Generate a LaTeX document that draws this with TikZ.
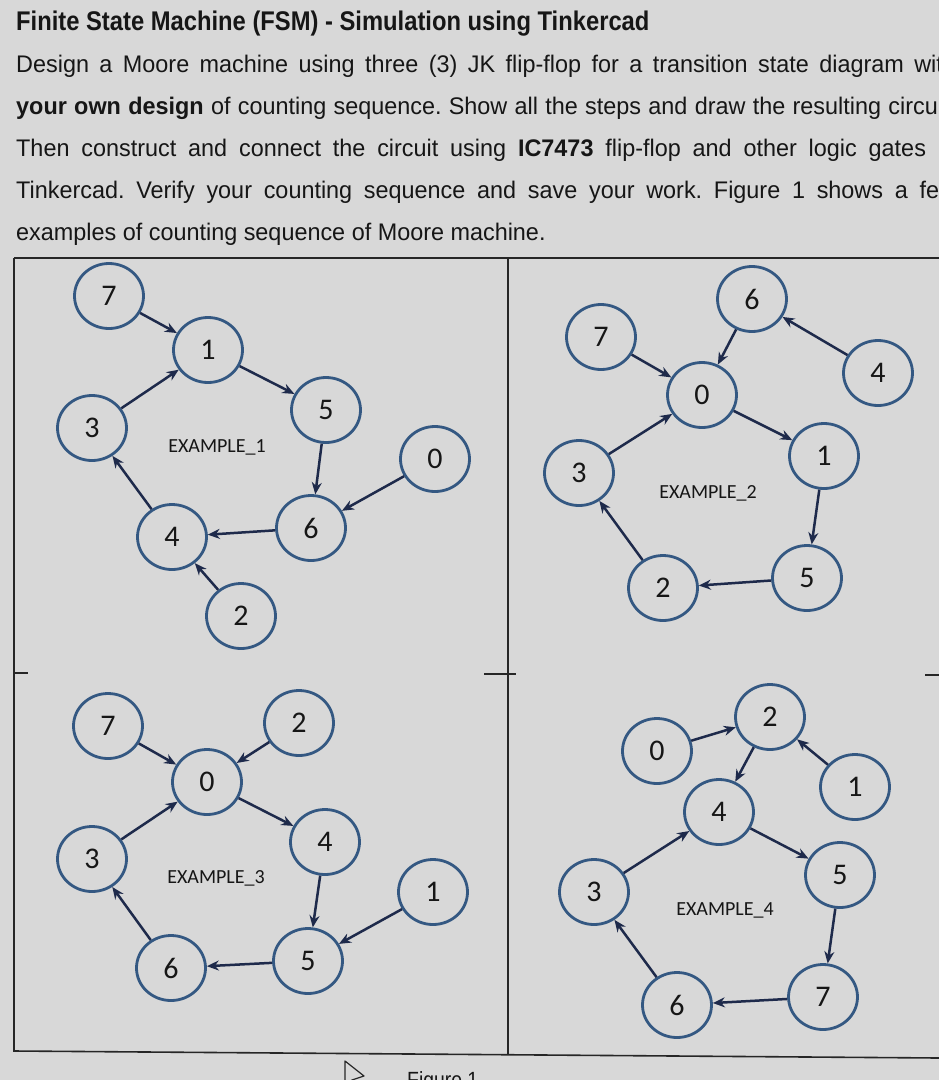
\documentclass[tikz,border=0pt]{standalone}
\usepackage{fontspec}
\setmainfont{Liberation Sans}
\newfontfamily\carl{Carlito}
\usetikzlibrary{shapes.geometric,arrows.meta}
\definecolor{bg}{RGB}{216,216,216}
\definecolor{ring}{RGB}{52,88,130}
\definecolor{arr}{RGB}{30,42,75}
\definecolor{ink}{RGB}{22,22,22}
\frenchspacing
\newcommand{\myjline}[1]{\scalebox{0.975}[1]{\makebox[964pt][s]{#1}}}
\begin{document}
\begin{tikzpicture}[x=1pt,y=-1pt,
  st/.style={ellipse,draw=ring,line width=2.8pt,minimum width=69pt,minimum height=65pt,inner sep=0pt,font=\carl\fontsize{30}{30}\selectfont,text=ink},
  tr/.style={-{Stealth[length=12pt,width=10pt]},draw=arr,line width=2.5pt},
  lbl/.style={font=\carl\fontsize{20}{20}\selectfont,text=ink,inner sep=0pt},
  hdr/.style={anchor=base west,inner sep=0pt,text=ink,font=\fontsize{24}{24}\selectfont},
  frm/.style={draw=black!85,line width=1.6pt}]
\clip (0,0) rectangle (939,1080);
\fill[bg] (0,0) rectangle (939,1080);

% header text
\node[hdr] (h1) at (16,30) {\scalebox{0.88}[1]{\fontsize{27}{27}\selectfont\bfseries Finite State Machine (FSM) - Simulation using Tinkercad}};
\node[hdr] (h2) at (16,72) {\myjline{Design a Moore machine using three (3) JK flip-flop for a transition state diagram with}};
\node[hdr] (h3) at (16,114) {\myjline{\textbf{your own design} of counting sequence. Show all the steps and draw the resulting circuit.}};
\node[hdr] (h4) at (16,156) {\myjline{Then construct and connect the circuit using \textbf{IC7473} flip-flop and other logic gates in}};
\node[hdr] (h5) at (16,198) {\myjline{Tinkercad. Verify your counting sequence and save your work. Figure 1 shows a few}};
\node[hdr] (h6) at (16,240) {\scalebox{0.975}[1]{examples of counting sequence of Moore machine.}};

% frame
\draw[frm] (14,258) -- (939,258);
\draw[frm] (14,258) -- (14,1051) -- (939,1058);
\draw[frm] (508,258) -- (508,1055);
\draw[frm] (14,673) -- (28,673);
\draw[frm] (484,674) -- (516,674);
\draw[frm] (925,675) -- (939,675);

% Example 1
\node[st] (a7) at (109,296) {7};
\node[st] (a1) at (208,350) {1};
\node[st] (a3) at (92,428) {3};
\node[st] (a5) at (326,410) {5};
\node[st] (a0) at (435,459) {0};
\node[st] (a6) at (311,528) {6};
\node[st] (a4) at (172,537) {4};
\node[st] (a2) at (241,616) {2};
\node[lbl] (la) at (217,447) {EXAMPLE\_1};
\draw[tr] (a7) -- (a1);
\draw[tr] (a3) -- (a1);
\draw[tr] (a1) -- (a5);
\draw[tr] (a5) -- (a6);
\draw[tr] (a0) -- (a6);
\draw[tr] (a6) -- (a4);
\draw[tr] (a4) -- (a3);
\draw[tr] (a2) -- (a4);

% Example 2
\node[st] (b6) at (752,299) {6};
\node[st] (b7) at (601,337) {7};
\node[st] (b4) at (878,373) {4};
\node[st] (b0) at (702,395) {0};
\node[st] (b1) at (824,456) {1};
\node[st] (b3) at (579,473) {3};
\node[st] (b5) at (807,578) {5};
\node[st] (b2) at (663,588) {2};
\node[lbl] (lb) at (708,493) {EXAMPLE\_2};
\draw[tr] (b7) -- (b0);
\draw[tr] (b6) -- (b0);
\draw[tr] (b4) -- (b6);
\draw[tr] (b3) -- (b0);
\draw[tr] (b0) -- (b1);
\draw[tr] (b1) -- (b5);
\draw[tr] (b5) -- (b2);
\draw[tr] (b2) -- (b3);

% Example 3
\node[st] (c7) at (108,726) {7};
\node[st] (c2) at (299,723) {2};
\node[st] (c0) at (207,782) {0};
\node[st] (c4) at (325,842) {4};
\node[st] (c3) at (92,859) {3};
\node[st] (c1) at (433,892) {1};
\node[st] (c5) at (308,961) {5};
\node[st] (c6) at (171,968) {6};
\node[lbl] (lc) at (216,878) {EXAMPLE\_3};
\draw[tr] (c7) -- (c0);
\draw[tr] (c2) -- (c0);
\draw[tr] (c0) -- (c4);
\draw[tr] (c3) -- (c0);
\draw[tr] (c4) -- (c5);
\draw[tr] (c1) -- (c5);
\draw[tr] (c5) -- (c6);
\draw[tr] (c6) -- (c3);

% Example 4
\node[st] (d2) at (770,717) {2};
\node[st] (d0) at (657,751) {0};
\node[st] (d1) at (855,787) {1};
\node[st] (d4) at (719,812) {4};
\node[st] (d3) at (594,892) {3};
\node[st] (d5) at (840,875) {5};
\node[st] (d7) at (823,997) {7};
\node[st] (d6) at (677,1005) {6};
\node[lbl] (ld) at (725,910) {EXAMPLE\_4};
\draw[tr] (d0) -- (d2);
\draw[tr] (d1) -- (d2);
\draw[tr] (d2) -- (d4);
\draw[tr] (d3) -- (d4);
\draw[tr] (d4) -- (d5);
\draw[tr] (d5) -- (d7);
\draw[tr] (d7) -- (d6);
\draw[tr] (d6) -- (d3);

% bottom: pointer and caption (cut by the page edge)
\draw[black!85,line width=1.2pt,line join=round] (345,1061) -- (345,1085) -- (352,1080) -- (364,1076) -- cycle;
\node[anchor=north west,inner sep=0pt,text=ink,font=\fontsize{22}{22}\selectfont] (fig) at (407,1071) {\scalebox{0.88}[1]{Figure 1}};
\end{tikzpicture}
\end{document}
